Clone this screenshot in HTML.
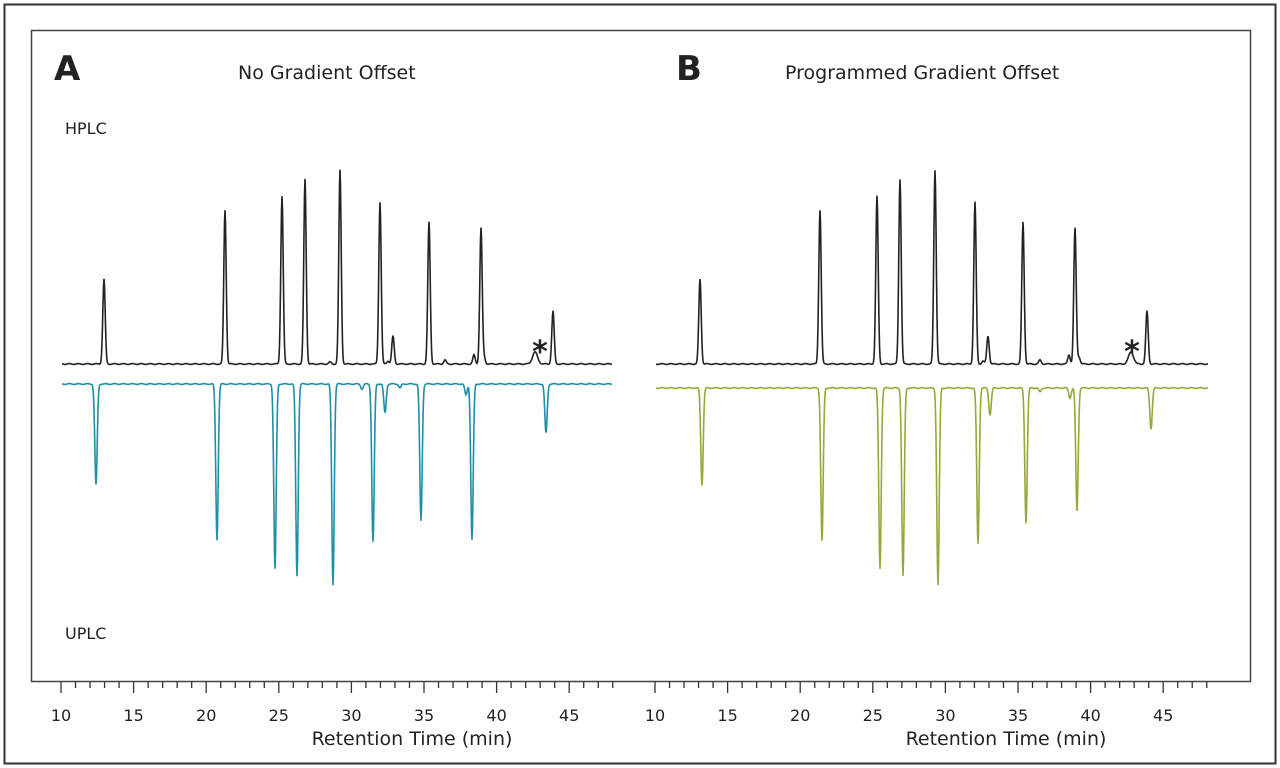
<!DOCTYPE html>
<html><head><meta charset="utf-8"><style>
html,body{margin:0;padding:0;background:#fff}
svg{display:block}
text{font-family:"DejaVu Sans","Liberation Sans",sans-serif;fill:#222}
</style></head><body>
<svg width="1280" height="768" viewBox="0 0 1280 768" xmlns="http://www.w3.org/2000/svg">
<rect x="4.5" y="4.5" width="1271" height="759" fill="#fff" stroke="#333" stroke-width="2"/>
<rect x="31.5" y="30.5" width="1219" height="651" fill="none" stroke="#444" stroke-width="1.5"/>
<text x="54" y="80" font-size="34" font-weight="bold" font-family="Liberation Sans">A</text>
<text x="676" y="80" font-size="34" font-weight="bold" font-family="Liberation Sans">B</text>
<text x="238" y="79" font-size="19">No Gradient Offset</text>
<text x="785" y="79" font-size="19">Programmed Gradient Offset</text>
<text x="65" y="134" font-size="16">HPLC</text>
<text x="65" y="639" font-size="16">UPLC</text>
<script>
const NS="http://www.w3.org/2000/svg";
const svg=document.querySelector('svg');
function el(t,a,p){const e=document.createElementNS(NS,t);for(const k in a)e.setAttribute(k,a[k]);(p||svg).appendChild(e);return e;}
[61,655].forEach(x0=>{
  const s=14.52;
  for(let m=10;m<=48;m++){
    const x=x0+(m-10)*s;
    el('line',{x1:x,y1:682,x2:x,y2:m%5==0?693:688,stroke:'#333','stroke-width':1.3});
    if(m%5==0){const t=el('text',{x:x,y:721,'font-size':16,'text-anchor':'middle'});t.textContent=m;}
  }
  const t=el('text',{x:x0+351,y:745,'font-size':19,'text-anchor':'middle'});t.textContent='Retention Time (min)';
});
function trace(x0,x1,base,peaks,color,w){
  let pts=[];
  for(let x=x0;x<=x1;x+=0.5){
    let y=base+Math.sin(x*0.7)*0.4;
    for(const [px,py,pw] of peaks){
      const h=py-base, ww=pw||1.2;
      y+=h*Math.exp(-((x-px)*(x-px))/(2*ww*ww));
    }
    pts.push(x.toFixed(1)+','+y.toFixed(1));
  }
  el('polyline',{points:pts.join(' '),fill:'none',stroke:color,'stroke-width':w||1.6});
}
const hA=[[104,279],[225,210],[282,196],[305,179],[340,170],[380,202],[393,336],[429,222],[481,228],[535,352,2.5],[553,311],[445,360],[474,355],[484,357],[388,361],[330,362]];
const uA=[[96,485],[217,540],[275,569],[297,576],[333,585],[373,542],[385,413],[421,521],[472,540],[546,433],[466,395],[362,389],[400,388]];
trace(62,612,364,hA,'#222');
trace(62,612,384,uA,'#1f8ea8');
const hB=[[700,279],[820,210],[877,196],[900,179],[935,170],[975,202],[988,336],[1023,222],[1075,228],[1131,352,2.5],[1147,311],[1040,360],[1069,355],[1079,357],[983,361]];
const uB=[[702,485],[822,541],[880,569],[903,576],[938,585],[978,544],[990,415],[1026,523],[1077,511],[1151,429],[1070,398],[1040,392]];
trace(656,1208,364,hB,'#222');
trace(656,1208,388,uB,'#9aa63a');
[[540,352],[1132,352]].forEach(([x,y])=>{const t=el('text',{x:x,y:y+10,'font-size':30,'font-weight':'bold','text-anchor':'middle'});t.textContent='*';});
</script>
</svg>
</body></html>
